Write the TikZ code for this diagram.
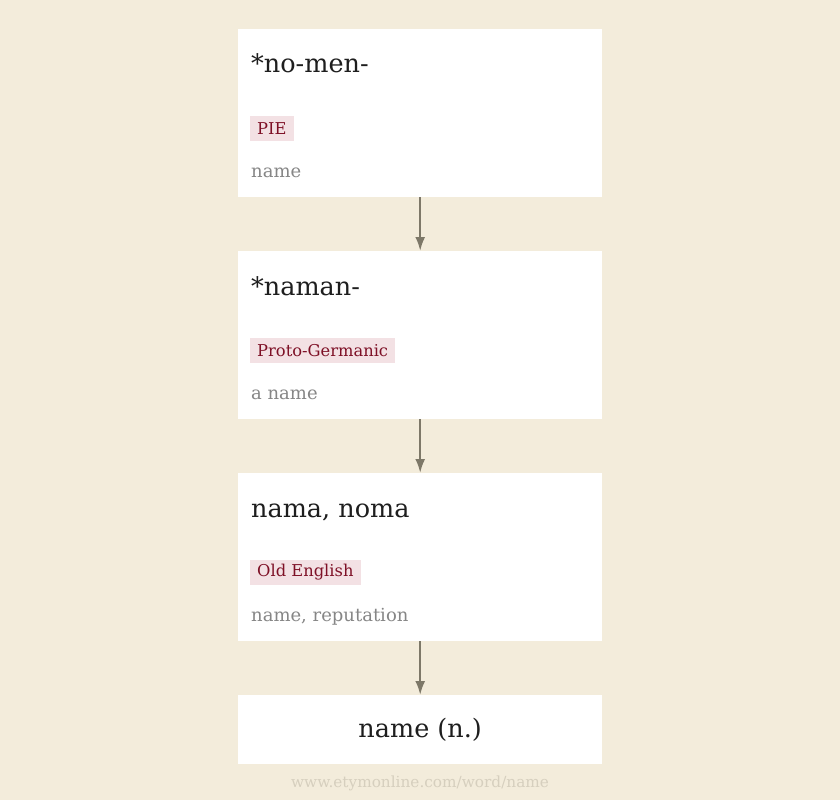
\documentclass[tikz,border=0pt]{standalone}
\usepackage{fontspec}
\setmainfont{DejaVu Serif}
\usetikzlibrary{positioning, arrows.meta, calc}

\definecolor{paper}{HTML}{F3ECDB}
\definecolor{tagbg}{HTML}{F3E1E4}
\definecolor{tagtext}{HTML}{7E1026}
\definecolor{glosstext}{HTML}{868686}
\definecolor{wordtext}{HTML}{1E1E1E}
\definecolor{linkcol}{HTML}{7D7868}
\definecolor{sourcetext}{HTML}{D6CFBE}

\tikzset{
    card/.style={fill=white, inner sep=0pt, minimum width=364pt, minimum height=168pt, anchor=north west},
    word/.style={anchor=base west, inner sep=0pt, text=wordtext, font=\fontsize{25.5}{30}\selectfont},
    lang/.style={anchor=west, fill=tagbg, text=tagtext, inner xsep=7pt, inner ysep=0pt, minimum height=25pt, font=\fontsize{16.3}{18}\selectfont},
    gloss/.style={anchor=base west, inner sep=0pt, text=glosstext, font=\fontsize{18}{22}\selectfont},
    link/.style={draw=linkcol, line width=2.2pt, -{Latex[length=14pt, width=10pt]}}
}

\begin{document}
\begin{tikzpicture}[x=1pt, y=-1pt]
        \def\cardx{238}
        \def\cardgap{222}

        % background
        \fill[paper] (0,0) rectangle (840,800);
        \useasboundingbox (0,0) rectangle (840,800);

        % ancestor cards
        \foreach \n/\word/\lang/\gloss in {1/{*no-men-}/PIE/name,2/{*naman-}/Proto-Germanic/a name,3/{nama, noma}/Old English/{name, reputation}}{
            \node[card] (card\n) at (\cardx, 29 + \n*\cardgap - \cardgap) {};
            \node[word] (word\n) at ($(card\n.north west) + (13, 44)$) {\word};
            \node[lang] (lang\n) at ($(card\n.north west) + (12, 99.5)$) {\lang};
            \node[gloss] (gloss\n) at ($(card\n.north west) + (13, 148)$) {\gloss};
        }

        % modern word
        \node[card, minimum height=69pt, text=wordtext, font=\fontsize{25.5}{30}\selectfont] (card4) at (\cardx, 695) {name (n.)};

        % links
        \foreach \a/\b in {1/2,2/3,3/4}{
            \draw[link] (card\a.south) -- (card\b.north);
        }

        % source
        \node[text=sourcetext, font=\fontsize{15.3}{17}\selectfont] (source) at (420, 783) {www.etymonline.com/word/name};
    \end{tikzpicture}
\end{document}
